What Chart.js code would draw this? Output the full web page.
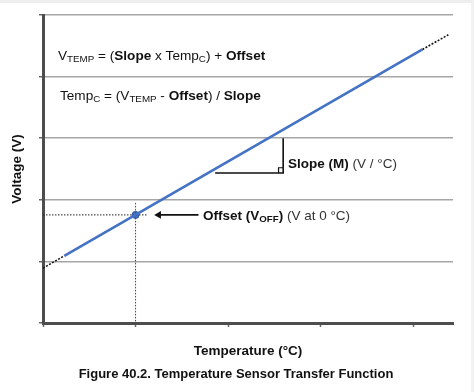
<!DOCTYPE html>
<html lang="en">
<head>
  <meta charset="UTF-8" />
  <title>Temperature Sensor Transfer Function</title>
  <script src="https://cdn.jsdelivr.net/npm/chart.js"></script>
  <style>
    html, body { margin: 0; padding: 0; background: #fff; }
    #wrap { position: relative; width: 474px; height: 392px; }
    /* faint frame seen on the top and right edges of the figure */
    #wrap::after {
      content: ""; position: absolute; inset: 0;
      border-top: 3px solid #eeeeee; border-right: 3px solid #f2f2f2;
      pointer-events: none;
    }
  </style>
</head>
<body>
<div id="wrap"><canvas id="chart" width="474" height="392"></canvas></div>
<script>
  // transfer line: dashed ends, solid blue middle
  const lineTemp = [0, 0.23, 4.10, 4.38];
  const lineVolt = [0.89, 1.09, 4.44, 4.68];

  // offset point (V at 0 degC marker position on the axis)
  const offsetTemp = 1;
  const offsetVolt = 1.755;

  // dotted guides through the offset point
  const guideHTemp = [0, 1.13];
  const guideVTemp = [1, 1];
  const guideVVolt = [1.95, 0];

  // arrow pointing at the offset point
  const arrowTemp = [1.25, 1.68];

  // slope triangle
  const slopeTemp = [1.86, 2.595, 2.595];
  const slopeVolt = [2.435, 2.435, 3.0];
  const cornerTemp = [2.545, 2.545, 2.595];
  const cornerVolt = [2.435, 2.52, 2.52];

  const xTicks = [0, 1, 2, 3, 4];
  const yTicks = [0, 1, 2, 3, 4, 5];

  const pts = (xs, ys) => xs.map((x, i) => ({ x: x, y: Array.isArray(ys) ? ys[i] : ys }));

  const BLUE = "#4472c4";
  const FONT = "'Liberation Sans', Arial, sans-serif";

  // draws a run of text pieces: {t, b (bold), s (subscript)}
  function richText(ctx, parts, x, y, size) {
    let cx = x;
    parts.forEach(p => {
      const fs = p.s ? size * 0.72 : size;
      ctx.font = (p.b ? "bold " : "") + fs + "px " + FONT;
      ctx.fillStyle = p.c || "#111";
      ctx.fillText(p.t, cx, p.s ? y + size * 0.12 : y);
      cx += ctx.measureText(p.t).width;
    });
  }

  const labelsPlugin = {
    id: "labels",
    afterDraw(chart) {
      const ctx = chart.ctx;
      ctx.save();
      ctx.textBaseline = "alphabetic";
      ctx.textAlign = "left";
      richText(ctx, [
        { t: "V" }, { t: "TEMP", s: true }, { t: " = (" }, { t: "Slope", b: true },
        { t: " x Temp" }, { t: "C", s: true }, { t: ") + " }, { t: "Offset", b: true }
      ], 58, 60, 13.6);
      richText(ctx, [
        { t: "Temp" }, { t: "C", s: true }, { t: " = (V" }, { t: "TEMP", s: true },
        { t: " - " }, { t: "Offset", b: true }, { t: ") / " }, { t: "Slope", b: true }
      ], 60, 100, 13.6);
      richText(ctx, [
        { t: "Slope (M)", b: true }, { t: " (V / °C)", c: "#333" }
      ], 288, 168, 13.5);
      richText(ctx, [
        { t: "Offset (V", b: true }, { t: "OFF", b: true, s: true }, { t: ")", b: true },
        { t: " (V at 0 °C)", c: "#333" }
      ], 203, 220, 13.5);
      ctx.font = "bold 13px " + FONT;
      ctx.textAlign = "center";
      ctx.fillStyle = "#111";
      ctx.fillText("Figure 40.2. Temperature Sensor Transfer Function", 236, 378);
      ctx.restore();
    }
  };

  new Chart(document.getElementById("chart"), {
    type: "scatter",
    data: {
      datasets: [
        {
          data: pts(lineTemp, lineVolt),
          showLine: true,
          borderWidth: 2.5,
          borderColor: BLUE,
          pointRadius: 0,
          segment: {
            borderColor: c => c.p0DataIndex === 1 ? BLUE : "#111",
            borderDash: c => c.p0DataIndex === 1 ? undefined : [2, 1.5],
            borderWidth: c => c.p0DataIndex === 1 ? 2.6 : 1.6
          }
        },
        {
          data: pts(guideHTemp, offsetVolt),
          showLine: true, borderColor: "#222", borderWidth: 1,
          borderDash: [1.5, 1.5], pointRadius: 0
        },
        {
          data: pts(guideVTemp, guideVVolt),
          showLine: true, borderColor: "#444", borderWidth: 1,
          borderDash: [1.5, 1.5], pointRadius: 0
        },
        {
          data: pts(slopeTemp, slopeVolt),
          showLine: true, borderColor: "#111", borderWidth: 1.6, pointRadius: 0
        },
        {
          data: pts(cornerTemp, cornerVolt),
          showLine: true, borderColor: "#111", borderWidth: 1.2, pointRadius: 0
        },
        {
          data: pts(arrowTemp, offsetVolt),
          showLine: true, borderColor: "#111", borderWidth: 1.6,
          pointRadius: [4.5, 0], pointStyle: "triangle", rotation: -90,
          pointBackgroundColor: "#111", pointBorderWidth: 0
        },
        {
          data: [{ x: offsetTemp, y: offsetVolt }],
          pointRadius: 3.5, pointBackgroundColor: BLUE,
          pointBorderColor: "#2f5597", pointBorderWidth: 1
        }
      ]
    },
    options: {
      responsive: false,
      animation: false,
      events: [],
      layout: { padding: { top: 15, right: 21, left: 0, bottom: 0 } },
      plugins: { legend: { display: false }, tooltip: { enabled: false } },
      scales: {
        x: {
          type: "linear",
          min: 0, max: 4.43,
          afterBuildTicks: s => { s.ticks = xTicks.map(v => ({ value: v })); },
          afterFit: s => { s.height = 69; },
          ticks: { display: false },
          grid: { drawOnChartArea: false, tickLength: 4, tickColor: "#666", tickWidth: 1.5 },
          border: { color: "#4d4d4d", width: 3 },
          title: {
            display: true, text: "Temperature (°C)", color: "#111",
            font: { family: FONT, size: 13.5, weight: "bold" },
            padding: { bottom: 33 }
          }
        },
        y: {
          min: 0, max: 5,
          afterBuildTicks: s => { s.ticks = yTicks.map(v => ({ value: v })); },
          afterFit: s => { s.width = 43; },
          ticks: { display: false },
          grid: { color: "#a6a6a6", lineWidth: 1.5, tickLength: 4, tickColor: "#666" },
          border: { color: "#4d4d4d", width: 3 },
          title: {
            display: true, text: "Voltage (V)", color: "#111",
            font: { family: FONT, size: 13.5, weight: "bold" },
            padding: { top: 9 }
          }
        }
      }
    },
    plugins: [labelsPlugin]
  });
</script>
</body>
</html>
